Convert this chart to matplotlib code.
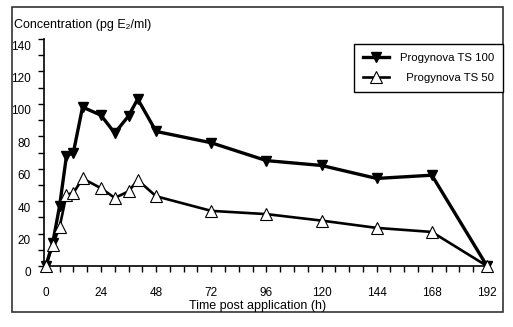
import numpy as np
import matplotlib
matplotlib.use("Agg")
import matplotlib.pyplot as plt
import matplotlib.transforms as mtransforms
from matplotlib.patches import Rectangle

plt.rcParams["font.family"] = ["Liberation Sans", "DejaVu Sans"]
plt.rcParams["font.size"] = 8.5

# horas tras la aplicacion
tiempo = [0, 3, 6, 9, 12, 16, 24, 30, 36, 40, 48, 72, 96, 120, 144, 168, 192]
ts100 = [0, 14, 37, 68, 70, 98, 93, 82, 92.5, 103, 83, 76, 65, 62, 54, 56, 0]
ts50 = [0, 13, 24, 44, 45, 54, 48, 42, 46, 53, 43, 34, 32, 28, 23.5, 21, 0]
etiquetas = ["Progynova TS 100", "  Progynova TS 50"]

W, H = 513, 327
fig = plt.figure(figsize=(W/100, H/100), dpi=100)
ax = fig.add_axes([43.5/W, (H-266)/H, (487-43.5)/W, 227/H])

ax.plot(tiempo, ts100, color="black", linewidth=2.4, marker="v", markersize=7,
        markerfacecolor="black", markeredgecolor="black", clip_on=False, zorder=3,
        label=etiquetas[0])
ax.plot(tiempo, ts50, color="black", linewidth=1.9, marker="^", markersize=8,
        markerfacecolor="white", markeredgecolor="black", markeredgewidth=0.8,
        clip_on=False, zorder=4, label=etiquetas[1])

ax.set_xlim(-1, 192)
ax.set_ylim(0, 140)
ax.set_xticks(np.arange(0, 193, 24))
ax.set_xticks(np.arange(0, 193, 6), minor=True)
ax.set_yticks(np.arange(0, 141, 20))
ax.set_yticks(np.arange(0, 141, 10), minor=True)
ax.tick_params(axis="x", which="both", direction="out", length=4, width=1, pad=11)
ax.tick_params(axis="y", which="both", direction="out", length=4, width=1, pad=5)
for s in ["top", "right"]:
    ax.spines[s].set_visible(False)
ax.spines["left"].set_linewidth(1.2)
ax.spines["bottom"].set_linewidth(1.2)

# las etiquetas del eje y quedan algo por debajo de las marcas
desplazar = mtransforms.ScaledTranslation(0, -6/100, fig.dpi_scale_trans)
for lab in ax.get_yticklabels():
    lab.set_transform(lab.get_transform() + desplazar)

fig.text(14/W, 1-25/H, "Concentration (pg E\u2082/ml)", ha="left", va="center", fontsize=9)
fig.text(258/W, 1-306/H, "Time post application (h)", ha="center", va="center", fontsize=9)

leg = fig.legend(loc="upper right", bbox_to_anchor=(503/W, 1-44/H), borderaxespad=0,
                 fancybox=False, edgecolor="black", framealpha=1, handlelength=2.3,
                 handletextpad=1.0, borderpad=0.75, labelspacing=0.95, fontsize=8.2)
leg.get_frame().set_linewidth(1.0)

fig.patches.append(Rectangle((12/W, (H-312)/H), 491/W, 305/H, transform=fig.transFigure,
                             fill=False, edgecolor="#333333", linewidth=1.2))

fig.savefig("out.png", dpi=100)
